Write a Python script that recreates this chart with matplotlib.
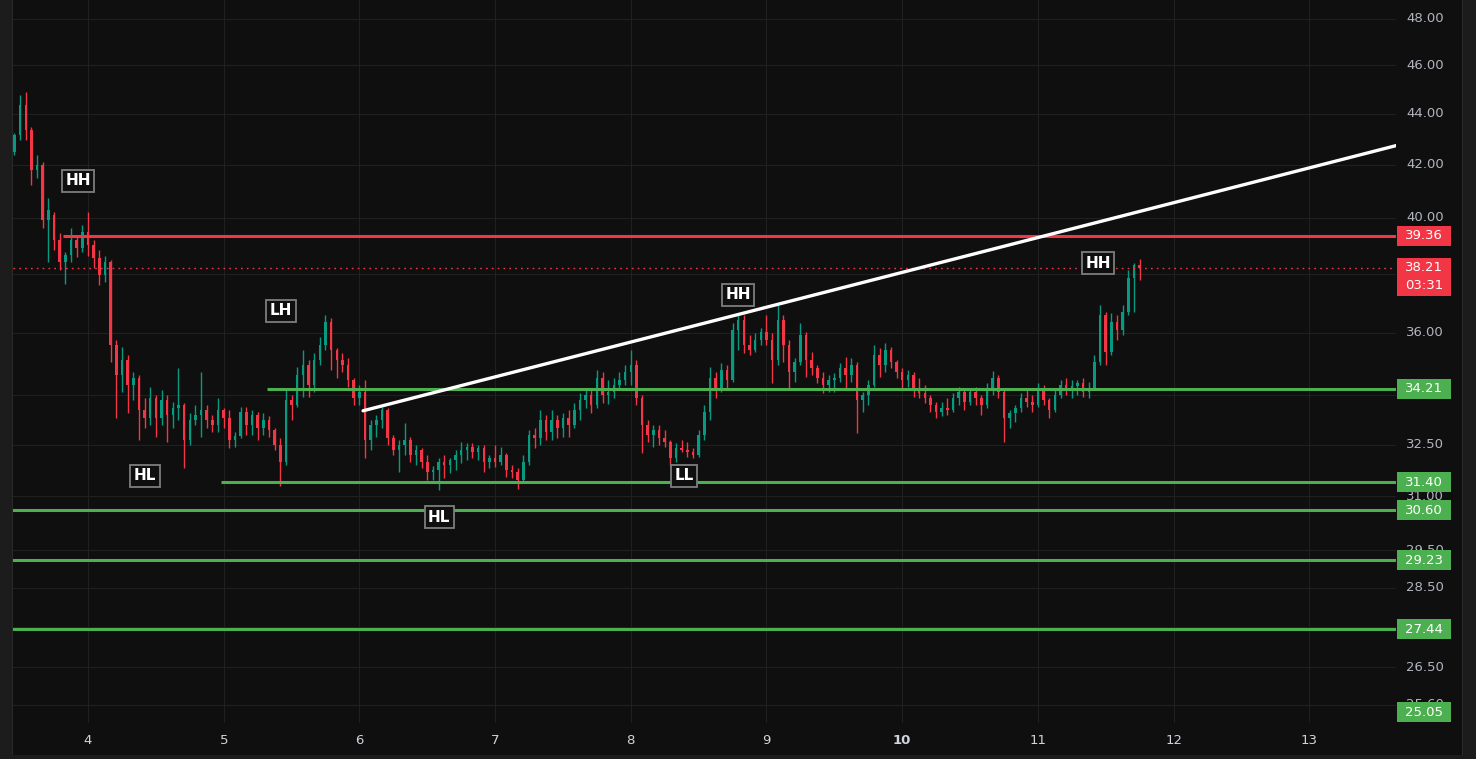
import matplotlib
matplotlib.use("Agg")
import matplotlib.pyplot as plt
import numpy as np
from matplotlib.patches import Rectangle
from matplotlib.transforms import IdentityTransform
from matplotlib.ticker import NullLocator

# ---------------- data ----------------
start_day = 3 + 11 / 24          # first hourly candle (day-of-month units)

opens = [
    42.49, 43.16, 44.37, 43.36, 41.80, 41.99, 39.93, 40.11, 39.20, 38.42,
    38.66, 39.20, 38.91, 39.49, 39.02, 38.56, 37.96, 38.42, 35.60, 34.64,
    35.12, 34.33, 34.54, 33.55, 33.30, 33.92, 33.30, 33.86, 33.39, 33.61,
    33.70, 32.64, 33.24, 33.39, 33.55, 33.24, 33.09, 33.55, 33.30, 32.64,
    32.76, 33.49, 33.09, 33.39, 33.00, 33.24, 32.94, 32.49, 31.99, 33.86,
    33.70, 34.64, 34.96, 34.33, 35.12, 35.60, 36.36, 35.44, 35.12, 34.96,
    34.48, 33.92, 34.11, 32.64, 33.09, 33.24, 33.55, 32.70, 32.34, 32.49,
    32.64, 32.20, 32.34, 31.99, 31.70, 31.76, 31.99, 31.90, 32.05, 32.20,
    32.34, 32.43, 32.28, 32.40, 31.99, 32.11, 31.99, 32.20, 31.76, 31.70,
    31.47, 31.99, 32.79, 32.70, 33.24, 32.88, 33.24, 33.00, 33.30, 33.09,
    33.55, 33.86, 34.01, 33.70, 34.54, 34.01, 34.11, 34.33, 34.48, 34.74,
    34.96, 33.92, 33.09, 32.79, 32.94, 32.70, 32.58, 32.11, 32.40, 32.34,
    32.28, 32.20, 32.79, 33.49, 34.54, 34.17, 34.80, 34.48, 36.10, 36.43,
    35.60, 35.44, 35.77, 36.03, 35.77, 35.12, 36.43, 35.60, 34.74, 35.06,
    35.93, 35.12, 34.86, 34.54, 34.33, 34.48, 34.54, 34.86, 34.64, 34.96,
    33.86, 34.01, 34.33, 35.28, 34.96, 35.44, 35.06, 34.74, 34.48, 34.64,
    34.17, 34.08, 33.92, 33.70, 33.49, 33.61, 33.55, 33.92, 34.11, 33.80,
    34.11, 33.92, 33.70, 34.17, 34.54, 34.11, 33.30, 33.46, 33.61, 33.92,
    33.80, 33.70, 34.23, 33.86, 33.55, 34.01, 34.33, 34.17, 34.29, 34.39,
    34.11, 34.23, 35.06, 36.60, 35.38, 36.36, 36.10, 36.70, 37.86, 38.31,
]
highs = [
    43.24, 44.77, 44.90, 43.48, 42.38, 42.10, 40.74, 40.22, 39.45, 38.77,
    39.63, 39.34, 39.74, 40.22, 39.20, 38.84, 38.63, 38.49, 35.77, 35.54,
    35.28, 34.74, 34.64, 33.92, 34.26, 34.01, 34.17, 34.01, 33.80, 34.86,
    33.77, 33.46, 33.70, 34.74, 33.70, 33.39, 33.92, 33.61, 33.55, 32.88,
    33.64, 33.64, 33.55, 33.49, 33.46, 33.36, 33.00, 32.70, 34.17, 34.01,
    34.90, 35.44, 35.12, 35.34, 35.87, 36.60, 36.50, 35.51, 35.34, 35.18,
    34.54, 34.33, 34.48, 33.24, 33.39, 33.64, 33.61, 32.79, 32.64, 33.15,
    32.73, 32.49, 32.40, 32.20, 31.88, 32.11, 32.20, 32.11, 32.34, 32.58,
    32.55, 32.55, 32.49, 32.49, 32.20, 32.49, 32.43, 32.26, 31.90, 31.82,
    32.20, 32.94, 33.00, 33.55, 33.39, 33.55, 33.39, 33.46, 33.55, 33.77,
    34.08, 34.23, 34.23, 34.80, 34.74, 34.48, 34.54, 34.74, 34.96, 35.44,
    35.12, 34.01, 33.24, 33.09, 33.09, 32.94, 32.64, 32.55, 32.64, 32.58,
    32.40, 32.94, 33.70, 34.90, 34.74, 35.02, 34.96, 36.33, 36.67, 36.60,
    35.93, 36.00, 36.17, 36.60, 36.00, 36.94, 36.60, 35.77, 35.18, 36.33,
    36.03, 35.38, 34.96, 34.74, 34.64, 34.70, 35.02, 35.22, 35.18, 35.06,
    34.11, 34.48, 35.60, 35.51, 35.67, 35.54, 35.12, 34.86, 34.80, 34.74,
    34.54, 34.33, 34.01, 33.80, 33.80, 33.92, 34.08, 34.26, 34.17, 34.23,
    34.26, 34.01, 34.39, 34.77, 34.64, 34.17, 33.55, 33.70, 34.08, 34.23,
    34.01, 34.39, 34.33, 33.92, 34.17, 34.48, 34.54, 34.48, 34.48, 34.54,
    34.42, 35.28, 36.94, 36.70, 36.67, 36.60, 36.94, 38.14, 38.38, 38.52,
]
lows = [
    42.38, 42.96, 42.96, 41.23, 41.50, 39.63, 38.42, 38.84, 38.14, 37.65,
    38.42, 38.59, 38.77, 38.63, 38.21, 37.62, 37.72, 35.06, 33.30, 34.11,
    33.46, 33.86, 32.64, 33.00, 33.09, 32.73, 33.09, 32.58, 33.00, 33.24,
    31.82, 32.49, 33.09, 32.73, 33.00, 32.88, 32.88, 33.00, 32.40, 32.43,
    32.70, 32.79, 32.79, 32.64, 32.79, 32.73, 32.34, 31.29, 31.90, 33.24,
    33.65, 33.95, 33.95, 34.11, 34.96, 35.44, 34.80, 34.54, 34.74, 34.26,
    33.70, 33.70, 32.11, 32.34, 32.73, 33.00, 32.49, 32.20, 31.70, 32.20,
    31.99, 31.90, 31.82, 31.47, 31.47, 31.18, 31.53, 31.67, 31.76, 31.96,
    32.05, 32.11, 32.05, 31.70, 31.82, 31.85, 31.90, 31.56, 31.53, 31.21,
    31.41, 31.90, 32.40, 32.49, 32.64, 32.64, 32.70, 32.73, 32.73, 33.00,
    33.24, 33.61, 33.46, 33.61, 33.77, 33.73, 33.92, 34.17, 34.33, 34.33,
    33.70, 32.26, 32.58, 32.43, 32.49, 32.43, 31.90, 31.99, 32.28, 32.14,
    32.11, 32.14, 32.64, 33.24, 33.92, 34.11, 34.23, 34.42, 35.44, 35.34,
    35.28, 35.38, 35.60, 35.60, 34.39, 34.96, 35.06, 34.17, 34.42, 34.96,
    34.58, 34.64, 34.39, 34.08, 34.11, 34.11, 34.42, 34.23, 34.42, 32.85,
    33.49, 33.70, 34.26, 34.58, 34.74, 34.86, 34.54, 34.23, 34.26, 33.95,
    33.92, 33.77, 33.49, 33.30, 33.36, 33.39, 33.49, 33.70, 33.55, 33.70,
    33.70, 33.39, 33.61, 34.01, 33.92, 32.58, 33.00, 33.18, 33.49, 33.64,
    33.49, 33.64, 33.70, 33.30, 33.49, 33.92, 34.01, 33.92, 34.01, 33.95,
    33.92, 34.17, 34.96, 34.96, 35.28, 35.77, 35.93, 36.60, 36.70, 37.79,
]
closes = [
    43.16, 44.37, 43.36, 41.80, 41.99, 39.93, 40.29, 39.20, 38.42, 38.66,
    39.20, 38.91, 39.49, 39.02, 38.56, 37.96, 38.42, 35.60, 34.64, 35.12,
    34.33, 34.54, 33.55, 33.30, 33.92, 33.30, 33.86, 33.39, 33.61, 33.70,
    32.64, 33.24, 33.39, 33.55, 33.24, 33.09, 33.55, 33.30, 32.64, 32.76,
    33.49, 33.09, 33.39, 33.00, 33.24, 32.94, 32.49, 31.99, 33.86, 33.70,
    34.64, 34.96, 34.33, 35.12, 35.60, 36.36, 35.44, 35.12, 34.96, 34.48,
    33.92, 34.11, 32.64, 33.09, 33.24, 33.55, 32.70, 32.34, 32.49, 32.64,
    32.20, 32.34, 31.99, 31.70, 31.76, 31.99, 31.90, 32.05, 32.20, 32.34,
    32.43, 32.28, 32.40, 31.99, 32.11, 31.99, 32.20, 31.76, 31.70, 31.47,
    31.99, 32.79, 32.70, 33.24, 32.88, 33.24, 33.00, 33.30, 33.09, 33.55,
    33.86, 34.01, 33.70, 34.54, 34.01, 34.11, 34.33, 34.48, 34.74, 34.96,
    33.92, 33.09, 32.79, 32.94, 32.70, 32.58, 32.11, 32.40, 32.34, 32.28,
    32.20, 32.79, 33.49, 34.54, 34.17, 34.80, 34.48, 36.10, 36.43, 35.60,
    35.44, 35.77, 36.03, 35.77, 35.12, 36.43, 35.60, 34.74, 35.06, 35.93,
    35.12, 34.86, 34.54, 34.33, 34.48, 34.54, 34.86, 34.64, 34.96, 33.86,
    34.01, 34.33, 35.28, 34.96, 35.44, 35.06, 34.74, 34.48, 34.64, 34.17,
    34.08, 33.92, 33.70, 33.49, 33.61, 33.55, 33.92, 34.11, 33.80, 34.11,
    33.92, 33.70, 34.17, 34.54, 34.11, 33.30, 33.46, 33.61, 33.92, 33.80,
    33.70, 34.23, 33.86, 33.55, 34.01, 34.33, 34.17, 34.29, 34.39, 34.11,
    34.23, 35.06, 36.60, 35.38, 36.36, 36.10, 36.70, 37.86, 38.31, 38.21,
]

# horizontal levels drawn on the chart
level_prices = [39.36, 34.21, 31.40, 30.60, 29.23, 27.44]
level_labels = ["39.36", "34.21", "31.40", "30.60", "29.23", "27.44"]
level_start = [3.816, 5.319, 4.980, None, None, None]
extra_level_price = 25.05          # label only (line below the visible area)
last_price = 38.21
last_label = ["38.21", "03:31"]

# trend line
trend_days = [6.027, 13.64]
trend_prices = [33.52, 42.74]

# swing annotations
swing_text = ["HH", "LH", "HL", "HL", "HH", "LL", "HH"]
swing_days = [3.926, 5.422, 4.420, 6.587, 8.790, 8.392, 11.443]
swing_prices = [41.38, 36.74, 31.58, 30.41, 37.28, 31.58, 38.38]

# axes ticks
day_ticks = [4, 5, 6, 7, 8, 9, 10, 11, 12, 13]
grid_prices = [48.0, 46.0, 44.0, 42.0, 40.0, 38.0, 36.0, 34.0, 32.5, 31.0,
               29.5, 28.5, 27.5, 26.5, 25.6]
price_ticks = [48.0, 46.0, 44.0, 42.0, 40.0, 36.0, 34.0, 32.5, 31.0,
               29.5, 28.5, 26.5, 25.6]
price_tick_labels = ["48.00", "46.00", "44.00", "42.00", "40.00",
                     "36.00", "34.00", "32.50", "31.00", "29.50", "28.50",
                     "26.50", "25.60"]

# ---------------- styling ----------------
BG = "#0f0f0f"
GRID = "#202020"
UP = "#089981"
DOWN = "#f23645"
LEVEL_RED = "#f23645"
LEVEL_GREEN = "#4caf50"
TXT = "#b2b5be"

W, H = 1476, 759
fig = plt.figure(figsize=(W / 100, H / 100), dpi=100, facecolor=BG)
AX_L, AX_R, AX_T, AX_B = 13, 1396, 0, 723
ax = fig.add_axes([AX_L / W, (H - AX_B) / H, (AX_R - AX_L) / W, (AX_B - AX_T) / H])
ax.set_facecolor(BG)
ax.set_yscale("log")
ax.set_xlim(3.4473, 13.639)
ax.set_ylim(25.18, 48.84)
for s in ax.spines.values():
    s.set_visible(False)
ax.set_xticks([])
ax.set_yticks([])
ax.yaxis.set_minor_locator(NullLocator())
ax.xaxis.set_minor_locator(NullLocator())

# grid
for d in day_ticks:
    ax.axvline(d, color=GRID, lw=0.8, zorder=0)
for p in grid_prices:
    ax.axhline(p, color=GRID, lw=0.8, zorder=0)

# candles
o = np.array(opens); h = np.array(highs); l = np.array(lows); c = np.array(closes)
t = start_day + np.arange(len(c)) / 24
cols = np.where(c >= o, UP, DOWN)
ax.vlines(t, l, h, colors=cols, lw=1.0, zorder=2)
body_lo = np.minimum(o, c)
body_h = np.maximum(np.abs(c - o), 0.03)
ax.bar(t, body_h, bottom=body_lo, width=0.45 / 24, color=cols, lw=0, zorder=3)

# levels
xl0, xl1 = ax.get_xlim()
for p, st in zip(level_prices, level_start):
    col = LEVEL_RED if p == 39.36 else LEVEL_GREEN
    x0 = xl0 - 0.1 if st is None else st
    ax.plot([x0, xl1 + 0.1], [p, p], color=col, lw=2.2, solid_capstyle="butt", zorder=4)

# current price dotted line
ax.plot([xl0, xl1], [last_price, last_price], color=DOWN, lw=1.0,
        linestyle=(0, (1.2, 3.0)), zorder=4)

# trend line
ax.plot(trend_days, trend_prices, color="white", lw=2.4, solid_capstyle="round", zorder=5)

# swing labels
for s, d, p in zip(swing_text, swing_days, swing_prices):
    ax.text(d, p, s, ha="center", va="center", color="white", fontsize=11,
            fontweight="bold", zorder=7,
            bbox=dict(boxstyle="square,pad=0.22", fc=BG, ec="#7d7d7d", lw=1.3))

ID = IdentityTransform()


def ypix(price):
    return ax.transData.transform((xl0, price))[1]


def xpix(day):
    return ax.transData.transform((day, 30.0))[0]


# day labels
for d in day_ticks:
    fig.text(xpix(d), H - 741, str(d), transform=ID, ha="center", va="center",
             color="#d1d4dc", fontsize=9.5, fontweight="bold" if d == 10 else "normal")

# price tick labels
for v, s in zip(price_ticks, price_tick_labels):
    fig.text(1444, ypix(v), s, transform=ID, ha="right", va="center",
             color=TXT, fontsize=9.5, zorder=1)

# price boxes on the axis
BOX_X, BOX_W, BOX_H = 1397, 54, 20


def price_box(yc, text, color):
    fig.add_artist(Rectangle((BOX_X, yc - BOX_H / 2), BOX_W, BOX_H, transform=ID,
                             facecolor=color, edgecolor="none", zorder=5))
    fig.text(BOX_X + BOX_W / 2, yc, text, transform=ID, ha="center", va="center",
             color="white", fontsize=9.5, zorder=6)


for p, s in zip(level_prices, level_labels):
    col = LEVEL_RED if p == 39.36 else LEVEL_GREEN
    price_box(ypix(p), s, col)
# bottom label clamped to axis edge
price_box(H - 712, f"{extra_level_price:.2f}", LEVEL_GREEN)

# last price two-line box
y_last = ypix(last_price)
fig.add_artist(Rectangle((BOX_X, y_last - 28), BOX_W, 38, transform=ID,
                         facecolor=DOWN, edgecolor="none", zorder=5))
fig.text(BOX_X + BOX_W / 2, y_last, last_label[0], transform=ID, ha="center",
         va="center", color="white", fontsize=9.5, zorder=6)
fig.text(BOX_X + BOX_W / 2, y_last - 18, last_label[1], transform=ID, ha="center",
         va="center", color="white", fontsize=9.5, zorder=6)

# frame strips
fig.add_artist(Rectangle((0, 0), 12, H, transform=ID, facecolor="#1c1c1c",
                         edgecolor="none", zorder=8))
fig.add_artist(Rectangle((12, 0), 1, H, transform=ID, facecolor="#2a2a2a",
                         edgecolor="none", zorder=8))
fig.add_artist(Rectangle((1462, 0), W - 1462, H, transform=ID, facecolor="#1c1c1c",
                         edgecolor="none", zorder=8))
fig.add_artist(Rectangle((1462, 0), 1, H, transform=ID, facecolor="#2a2a2a",
                         edgecolor="none", zorder=8))
fig.add_artist(Rectangle((0, 0), W, 4, transform=ID, facecolor="#1c1c1c",
                         edgecolor="none", zorder=8))

fig.savefig("out.png", dpi=100, facecolor=BG)
